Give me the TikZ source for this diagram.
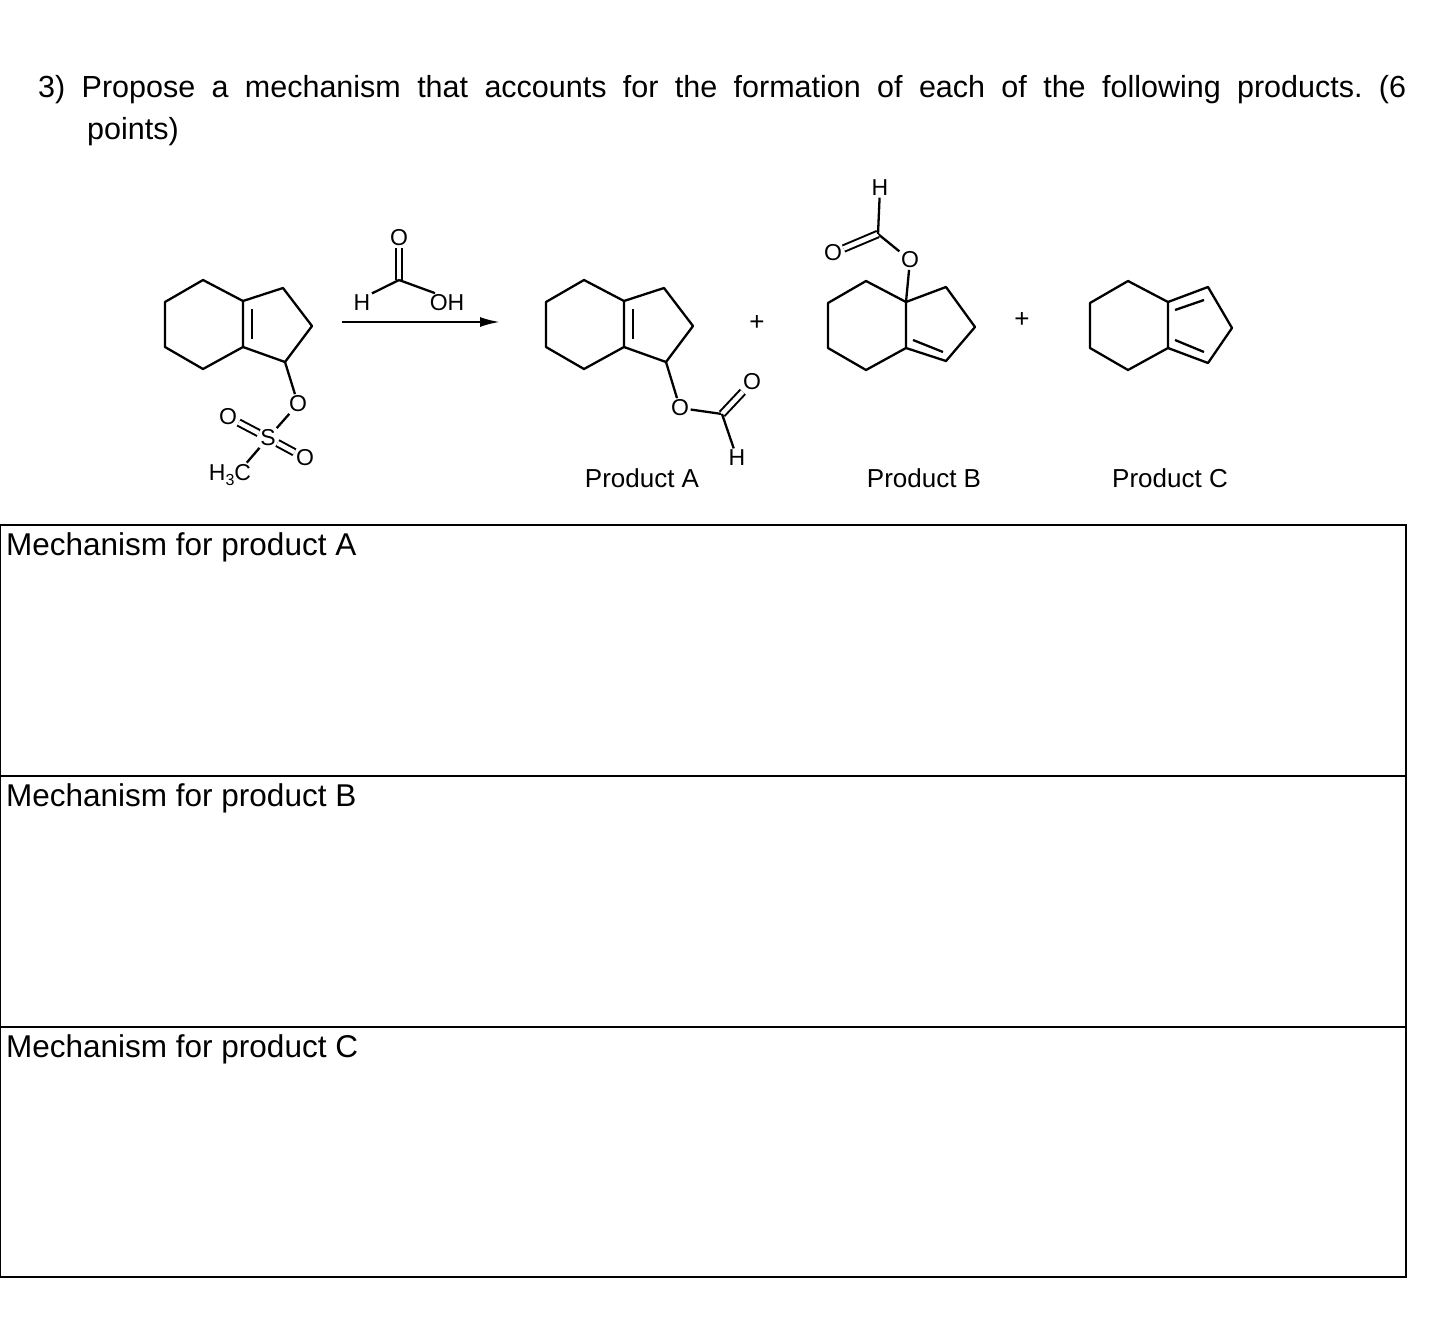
\documentclass[tikz,border=0pt]{standalone}
\usepackage{fontspec}
\setmainfont{Liberation Sans}
\usetikzlibrary{arrows.meta}
\frenchspacing
\begin{document}
\begin{tikzpicture}[x=1pt,y=-1pt,
  bond/.style={line width=2.3pt,line join=round},
  dbl/.style={line width=2pt,double,double distance=4.5pt},
  atom/.style={font=\fontsize{23}{23}\selectfont,inner sep=1.5pt},
  lab/.style={font=\fontsize{26}{26}\selectfont},
  mech/.style={font=\fontsize{31.5}{31.5}\selectfont,anchor=north west,inner sep=0pt}]
\useasboundingbox (0,0) rectangle (1446,1341);
% title
\node[anchor=base west,inner sep=0pt,font=\fontsize{30.5}{30.5}\selectfont] (t1) at (38,97)
  {\makebox[1368pt][s]{3) Propose a mechanism that accounts for the formation of each of the following products. (6}};
\node[anchor=base west,inner sep=0pt,font=\fontsize{30.5}{30.5}\selectfont] (t2) at (87,139) {points)};
% ---- starting material
\begin{scope}[shift={(243,301)}]
\draw[bond] (0,0)--(-40,-21)--(-78,1)--(-78,46)--(-40,68)--(0,46)--cycle;
\draw[bond] (0,0)--(40,-13)--(69,25)--(42,61)--(0,46);
\draw[bond] (9,8)--(9,38);
\coordinate (smc) at (42,61);
\end{scope}
\node[atom] (smO) at (298,404) {O};
\node[atom] (smS) at (268,438) {S};
\node[atom] (smOl) at (228,417) {O};
\node[atom] (smOr) at (305,458) {O};
\node[atom] (smMe) at (230,475) {H\raisebox{-5pt}{\fontsize{16}{16}\selectfont 3}C};
\draw[bond] (smc)--(smO);
\draw[bond] (smO)--(smS);
\draw[dbl] (smS)--(smOl);
\draw[dbl] (smS)--(smOr);
\draw[bond] (smS)--([xshift=-6pt]smMe.north east);
% formic acid + arrow
\coordinate (fc) at (399,280);
\node[atom] (fO) at (399,238) {O};
\node[atom] (fH) at (362,303) {H};
\node[atom] (fOH) at (447,303) {OH};
\draw[dbl] (fc)--(fO);
\draw[bond] (fc)--(fH.north east);
\draw[bond] (fc)--([xshift=-12pt]fOH.north);
\coordinate (a1) at (342,322);
\coordinate (a2) at (500,322);
\draw[line width=2.3pt,-{Latex[length=20pt,width=10pt]}] (a1)--(a2);
% ---- product A
\begin{scope}[shift={(624,301)}]
\draw[bond] (0,0)--(-40,-21)--(-78,1)--(-78,46)--(-40,68)--(0,46)--cycle;
\draw[bond] (0,0)--(40,-13)--(69,25)--(42,61)--(0,46);
\draw[bond] (9,8)--(9,38);
\coordinate (pac) at (42,61);
\end{scope}
\node[atom] (paO) at (680,408) {O};
\coordinate (paC) at (722,414);
\node[atom] (paO2) at (752,382) {O};
\node[atom] (paH) at (737,458) {H};
\draw[bond] (pac)--(paO);
\draw[bond] (paO)--(paC);
\draw[dbl] (paC)--(paO2);
\draw[bond] (paC)--(paH);
\node[lab] (plA) at (642,478) {Product A};
\node[lab] (plus1) at (757,323) {+};
% ---- product B
\begin{scope}[shift={(906,302)}]
\draw[bond] (0,0)--(-40,-21)--(-78,1)--(-78,46)--(-40,68)--(0,46)--cycle;
\draw[bond] (0,0)--(40,-15)--(69,25)--(40,59)--(0,46);
\draw[bond] (7,38)--(37,50);
\coordinate (pbj) at (0,0);
\end{scope}
\node[atom] (pbO) at (910,260) {O};
\coordinate (pbC) at (878,234);
\node[atom] (pbO2) at (833,253) {O};
\node[atom] (pbH) at (880,188) {H};
\draw[bond] (pbj)--(pbO);
\draw[bond] (pbO)--(pbC);
\draw[dbl] (pbC)--(pbO2);
\draw[bond] (pbC)--(pbH);
\node[lab] (plB) at (924,478) {Product B};
\node[lab] (plus2) at (1022,320) {+};
% ---- product C
\begin{scope}[shift={(1168,302)}]
\draw[bond] (0,0)--(-40,-21)--(-78,1)--(-78,46)--(-40,68)--(0,46)--cycle;
\draw[bond] (0,0)--(40,-15)--(64,26)--(40,61)--(0,46);
\draw[bond] (7,8)--(36,-2);
\draw[bond] (7,38)--(36,50);
\end{scope}
\node[lab] (plC) at (1170,478) {Product C};
% ---- answer boxes
\draw[line width=1.8pt] (0,525) rectangle (1406,1277);
\draw[line width=1.5pt] (0,776)--(1406,776);
\draw[line width=1.5pt] (0,1027)--(1406,1027);
\node[mech] (mA) at (6,532) {Mechanism for product A};
\node[mech] (mB) at (6,783) {Mechanism for product B};
\node[mech] (mC) at (6,1034) {Mechanism for product C};
\end{tikzpicture}
\end{document}
